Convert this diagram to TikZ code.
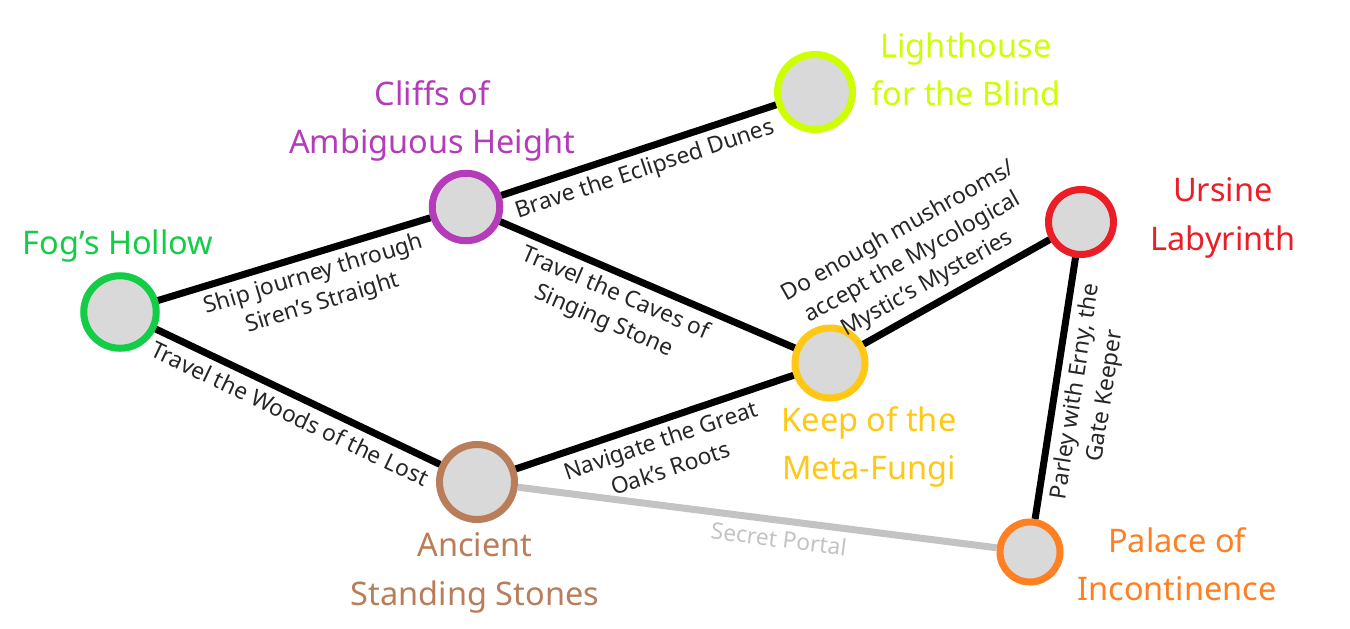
\documentclass[tikz,border=0pt]{standalone}
\usepackage{fontspec}
\setmainfont{Noto Sans}
\definecolor{cfog}{RGB}{20,205,70}
\definecolor{ccliff}{RGB}{180,60,185}
\definecolor{clight}{RGB}{205,255,0}
\definecolor{curs}{RGB}{235,30,40}
\definecolor{ckeep}{RGB}{255,200,20}
\definecolor{canc}{RGB}{185,125,90}
\definecolor{cpal}{RGB}{255,128,35}
\definecolor{cfill}{RGB}{217,217,217}
\definecolor{cportal}{RGB}{195,195,195}
\tikzset{
 place/.style={circle,fill=cfill,line width=4pt,inner sep=0pt,minimum size=#1},
 plabel/.style={font=\fontsize{18.5}{27.5}\selectfont,align=center},
 road/.style={line width=4pt,black},
 elab/.style={font=\fontsize{13}{17}\selectfont,align=center,sloped,inner sep=3.5pt,text=black!85}
}
\begin{document}
\begin{tikzpicture}[x=0.02cm,y=-0.02cm]
\useasboundingbox (0,0) rectangle (1350,629);
\node[place=1.45cm,draw=cfog] (fog) at (120,312) {};
\node[place=1.35cm,draw=ccliff] (cliff) at (466,207) {};
\node[place=1.5cm,draw=clight] (light) at (815,92) {};
\node[place=1.3cm,draw=curs] (urs) at (1081,222) {};
\node[place=1.4cm,draw=ckeep] (keep) at (830,363) {};
\node[place=1.5cm,draw=canc] (anc) at (477,482) {};
\node[place=1.2cm,draw=cpal] (pal) at (1030,552) {};

\node[plabel,text=cfog] (lfog) at (118,246) {Fog's Hollow};
\node[plabel,text=ccliff] (lcliff) at (432,121) {Cliffs of\\Ambiguous Height};
\node[plabel,text=clight] (llight) at (966,69) {Lighthouse\\for the Blind};
\node[plabel,text=curs] (lurs) at (1223,218) {Ursine\\Labyrinth};
\node[plabel,text=ckeep] (lkeep) at (869,447) {Keep of the\\Meta-Fungi};
\node[plabel,text=canc] (lanc) at (475,573) {Ancient\\Standing Stones};
\node[plabel,text=cpal] (lpal) at (1177,564) {Palace of\\Incontinence};

\draw[line width=4pt,cportal] (anc) -- node[elab,below,pos=0.55,text=cportal] {Secret Portal} (pal);
\draw[road] (fog) -- node[elab,below,pos=0.55] {Ship journey through\\Siren's Straight} (cliff);
\draw[road] (cliff) -- node[elab,below,pos=0.5] {Brave the Eclipsed Dunes} (light);
\draw[road] (cliff) -- node[elab,below,pos=0.42] {Travel the Caves of\\Singing Stone} (keep);
\draw[road] (fog) -- node[elab,below,pos=0.5] {Travel the Woods of the Lost} (anc);
\draw[road] (anc) -- node[elab,below,pos=0.5] {Navigate the Great\\Oak's Roots} (keep);
\draw[road] (keep) -- node[elab,above,pos=0.4] {Do enough mushrooms/\\accept the Mycological\\Mystic's Mysteries} (urs);
\draw[road] (pal) -- node[elab,below,pos=0.5] {Parley with Erny, the\\Gate Keeper} (urs);
\end{tikzpicture}
\end{document}
